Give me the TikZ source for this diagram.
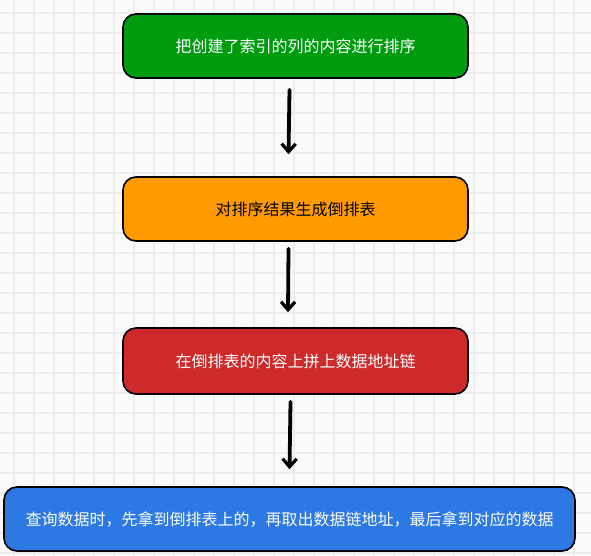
\documentclass[tikz,border=0pt]{standalone}
\usepackage{fontspec}
\newfontfamily\cjk{Noto Sans CJK SC}
\usetikzlibrary{arrows.meta}
\definecolor{bgc}{HTML}{FAFAFA}
\definecolor{gridc}{HTML}{EDEDED}
\definecolor{gboxc}{RGB}{0,156,16}
\definecolor{oboxc}{RGB}{255,155,0}
\definecolor{rboxc}{RGB}{206,42,42}
\definecolor{bboxc}{RGB}{44,121,228}
\tikzset{
  stepbox/.style={draw=black, line width=1.6pt, rounded corners=13pt,
    minimum height=64pt, inner sep=0pt, font=\cjk\fontsize{16pt}{18pt}\selectfont},
  arr/.style={line width=3.8pt, black, line cap=round,
    -{Straight Barb[length=8pt,width=14pt,line width=3.2pt]}},
}
\begin{document}
\begin{tikzpicture}[x=1pt,y=-1pt]
\useasboundingbox (0,0) rectangle (591,556);
\fill[bgc] (0,0) rectangle (591,556);
\foreach \i in {0,...,28} {
  \draw[gridc, line width=1.2pt] (14+20*\i,0) -- (14+20*\i,556);
}
\foreach \j in {0,...,27} {
  \draw[gridc, line width=1.2pt] (0,13+20*\j) -- (591,13+20*\j);
}
\node[stepbox, fill=gboxc, text=white, minimum width=345pt] (g) at (295.5,46) {把创建了索引的列的内容进行排序};
\node[stepbox, fill=oboxc, text=black, minimum width=345pt] (o) at (295.5,209) {对排序结果生成倒排表};
\node[stepbox, fill=rboxc, text=white, minimum width=345pt, minimum height=66pt] (r) at (295.5,361) {在倒排表的内容上拼上数据地址链};
\node[stepbox, fill=bboxc, text=white, minimum width=571pt] (b) at (289.5,519) {查询数据时，先拿到倒排表上的，再取出数据链地址，最后拿到对应的数据};
\draw[arr] ([xshift=-6pt,yshift=-11pt]g.south) -- ([xshift=-7pt,yshift=22pt]o.north);
\draw[arr] ([xshift=-7pt,yshift=-7pt]o.south) -- ([xshift=-7.5pt,yshift=15pt]r.north);
\draw[arr] ([xshift=-5pt,yshift=-7pt]r.south) -- ([xshift=0pt,yshift=17pt]b.north);
\end{tikzpicture}
\end{document}
